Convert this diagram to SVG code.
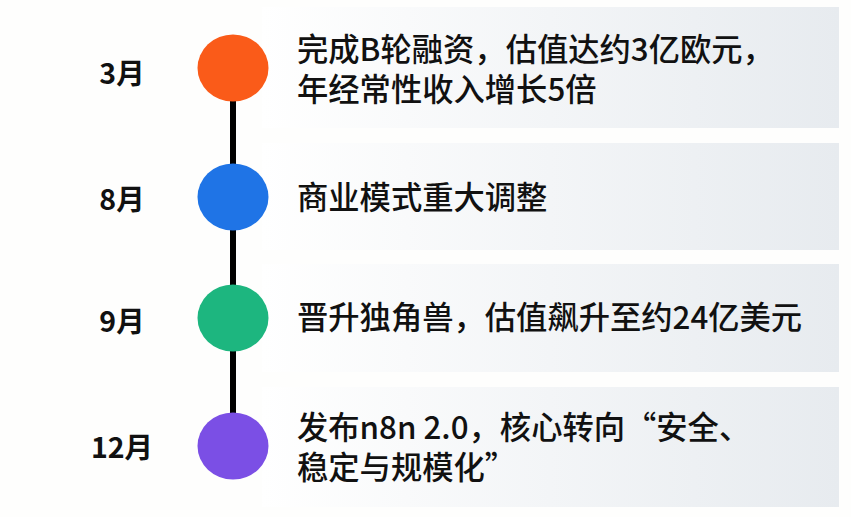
<svg xmlns="http://www.w3.org/2000/svg" width="851" height="517" viewBox="0 0 851 517">
<defs>
<linearGradient id="card" x1="0" y1="0" x2="1" y2="0">
<stop offset="0" stop-color="#ffffff"/>
<stop offset="1" stop-color="#e7ebef"/>
</linearGradient>
<style>
.card{fill:url(#card)}
.date{font-family:"Noto Sans CJK SC","Noto Sans",sans-serif;font-weight:700;font-size:28.5px;fill:#111;text-anchor:middle}
.txt{font-family:"Noto Sans CJK SC","Noto Sans",sans-serif;font-weight:500;font-size:31.3px;fill:#111}
</style>
</defs>
<rect width="851" height="517" fill="#fefefd"/>
<g id="connectors">
<line x1="233" y1="95" x2="233" y2="420" stroke="#000" stroke-width="6"/>
</g>
<g id="node-mar">
<rect class="card" x="262" y="7" width="577" height="121"/>
<text class="date" x="122" y="84">3月</text>
<ellipse cx="233" cy="68" rx="35.5" ry="33.5" fill="#fa5b19"/>
<text class="txt" x="297" y="61">完成B轮融资，估值达约3亿欧元，</text>
<text class="txt" x="297" y="101">年经常性收入增长5倍</text>
</g>
<g id="node-aug">
<rect class="card" x="262" y="143" width="577" height="107"/>
<text class="date" x="122" y="210">8月</text>
<ellipse cx="233" cy="197" rx="35.5" ry="33.5" fill="#1f74e6"/>
<text class="txt" x="297" y="209">商业模式重大调整</text>
</g>
<g id="node-sep">
<rect class="card" x="262" y="264" width="577" height="108"/>
<text class="date" x="122" y="332">9月</text>
<ellipse cx="233" cy="318" rx="35.5" ry="33.5" fill="#1db67f"/>
<text class="txt" x="297" y="329">晋升独角兽，估值飙升至约24亿美元</text>
</g>
<g id="node-dec">
<rect class="card" x="262" y="387" width="577" height="120"/>
<text class="date" x="122" y="458">12月</text>
<ellipse cx="233" cy="446" rx="35.5" ry="33.5" fill="#7b4fe5"/>
<text class="txt" x="297" y="439">发布n8n 2.0，核心转向“安全、</text>
<text class="txt" x="297" y="479">稳定与规模化”</text>
</g>
</svg>
